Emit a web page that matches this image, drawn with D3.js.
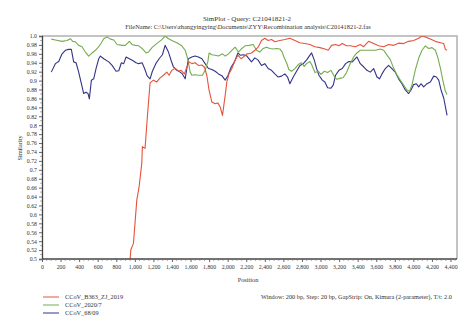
<!DOCTYPE html>
<html>
<head>
<meta charset="utf-8">
<script src="https://cdn.jsdelivr.net/npm/d3@7.9.0/dist/d3.min.js"></script>
<style>
  body { margin: 0; background: #fff; }
  svg { display: block; font-family: "Liberation Serif", "DejaVu Serif", serif; }
</style>
</head>
<body>
<svg width="474" height="336"></svg>
<script>
// series (position in bp, similarity)
const redPos = [950, 956, 985, 1021, 1046, 1075, 1081, 1110, 1135, 1164, 1200, 1236, 1272, 1308, 1344, 1369, 1398, 1434, 1470, 1498, 1534, 1560, 1585, 1614, 1649, 1685, 1722, 1750, 1775, 1800, 1830, 1865, 1894, 1919, 1944, 1973, 1991, 2016, 2045, 2073, 2110, 2145, 2181, 2207, 2221, 2256, 2293, 2328, 2364, 2400, 2436, 2472, 2508, 2562, 2616, 2670, 2724, 2778, 2832, 2886, 2940, 2994, 3047, 3083, 3119, 3162, 3198, 3234, 3280, 3320, 3374, 3428, 3464, 3518, 3572, 3626, 3680, 3733, 3787, 3841, 3895, 3949, 4003, 4057, 4093, 4129, 4183, 4237, 4291, 4327, 4345, 4363];
const redSim = [0.50, 0.52, 0.535, 0.632, 0.662, 0.715, 0.752, 0.748, 0.819, 0.895, 0.901, 0.897, 0.906, 0.912, 0.919, 0.912, 0.923, 0.928, 0.921, 0.923, 0.915, 0.930, 0.942, 0.938, 0.940, 0.934, 0.935, 0.930, 0.912, 0.878, 0.852, 0.848, 0.850, 0.841, 0.822, 0.867, 0.897, 0.916, 0.927, 0.942, 0.957, 0.949, 0.955, 0.960, 0.960, 0.962, 0.968, 0.975, 0.990, 0.995, 0.990, 0.992, 0.987, 0.990, 0.992, 0.995, 0.990, 0.985, 0.983, 0.981, 0.976, 0.974, 0.971, 0.968, 0.979, 0.981, 0.978, 0.983, 0.978, 0.978, 0.976, 0.981, 0.976, 0.988, 0.983, 0.978, 0.976, 0.981, 0.979, 0.984, 0.983, 0.988, 0.990, 0.995, 1.0, 0.998, 0.993, 0.988, 0.985, 0.983, 0.970, 0.968];

const greenPos = [100, 144, 216, 270, 305, 331, 359, 395, 431, 467, 503, 539, 575, 611, 640, 665, 701, 737, 773, 809, 863, 898, 941, 970, 1006, 1042, 1078, 1121, 1146, 1189, 1236, 1290, 1326, 1355, 1398, 1452, 1506, 1542, 1570, 1596, 1614, 1649, 1685, 1728, 1757, 1786, 1800, 1830, 1865, 1901, 1944, 1973, 2009, 2045, 2080, 2116, 2152, 2188, 2231, 2275, 2310, 2346, 2382, 2418, 2454, 2490, 2526, 2562, 2587, 2609, 2634, 2659, 2688, 2724, 2760, 2795, 2824, 2849, 2886, 2904, 2940, 2976, 3005, 3041, 3076, 3112, 3148, 3173, 3209, 3245, 3280, 3316, 3356, 3392, 3428, 3482, 3536, 3590, 3644, 3680, 3716, 3752, 3787, 3823, 3859, 3895, 3931, 3960, 3985, 4021, 4057, 4093, 4129, 4165, 4201, 4237, 4262, 4291, 4320, 4345, 4363];
const greenSim = [0.993, 0.991, 0.988, 0.990, 0.994, 0.988, 0.987, 0.979, 0.976, 0.964, 0.955, 0.962, 0.968, 0.976, 0.985, 0.994, 0.998, 0.993, 0.991, 0.981, 0.979, 0.979, 0.988, 0.981, 0.979, 0.978, 0.972, 0.962, 0.964, 0.975, 0.983, 0.992, 1.0, 0.995, 0.990, 0.985, 0.978, 0.968, 0.949, 0.919, 0.912, 0.913, 0.912, 0.912, 0.923, 0.942, 0.962, 0.958, 0.957, 0.955, 0.960, 0.955, 0.960, 0.968, 0.975, 0.964, 0.972, 0.978, 0.979, 0.981, 0.968, 0.964, 0.972, 0.975, 0.972, 0.971, 0.972, 0.971, 0.964, 0.951, 0.940, 0.925, 0.921, 0.927, 0.936, 0.940, 0.932, 0.938, 0.943, 0.936, 0.918, 0.921, 0.914, 0.921, 0.918, 0.923, 0.910, 0.903, 0.905, 0.907, 0.918, 0.936, 0.953, 0.962, 0.968, 0.968, 0.968, 0.968, 0.971, 0.968, 0.957, 0.947, 0.928, 0.913, 0.901, 0.890, 0.879, 0.876, 0.890, 0.924, 0.950, 0.968, 0.978, 0.972, 0.974, 0.968, 0.953, 0.928, 0.898, 0.876, 0.869];

const bluePos = [100, 144, 180, 216, 252, 288, 316, 341, 367, 395, 424, 449, 474, 496, 510, 532, 557, 582, 611, 629, 665, 719, 755, 798, 827, 855, 880, 906, 941, 977, 1013, 1042, 1078, 1107, 1132, 1146, 1164, 1189, 1226, 1261, 1297, 1326, 1362, 1391, 1415, 1452, 1488, 1512, 1542, 1577, 1614, 1649, 1685, 1722, 1757, 1793, 1830, 1865, 1901, 1937, 1973, 2002, 2037, 2073, 2110, 2134, 2170, 2207, 2256, 2293, 2328, 2364, 2400, 2436, 2472, 2508, 2544, 2580, 2616, 2645, 2670, 2706, 2742, 2778, 2814, 2849, 2886, 2904, 2933, 2958, 2983, 3019, 3047, 3076, 3112, 3137, 3162, 3198, 3234, 3270, 3306, 3342, 3392, 3428, 3464, 3500, 3536, 3572, 3608, 3636, 3662, 3698, 3733, 3769, 3805, 3841, 3877, 3913, 3949, 3975, 4003, 4032, 4057, 4082, 4111, 4147, 4183, 4219, 4248, 4273, 4298, 4327, 4363];
const blueSim = [0.919, 0.938, 0.943, 0.960, 0.968, 0.970, 0.970, 0.942, 0.940, 0.919, 0.893, 0.871, 0.874, 0.871, 0.859, 0.901, 0.904, 0.927, 0.949, 0.955, 0.949, 0.942, 0.934, 0.921, 0.922, 0.940, 0.938, 0.953, 0.949, 0.945, 0.940, 0.938, 0.940, 0.926, 0.911, 0.908, 0.904, 0.921, 0.938, 0.949, 0.958, 0.979, 0.964, 0.945, 0.931, 0.923, 0.919, 0.915, 0.904, 0.949, 0.953, 0.955, 0.953, 0.949, 0.938, 0.927, 0.925, 0.921, 0.915, 0.911, 0.901, 0.911, 0.930, 0.942, 0.962, 0.957, 0.958, 0.955, 0.942, 0.951, 0.946, 0.934, 0.938, 0.927, 0.923, 0.915, 0.908, 0.910, 0.915, 0.908, 0.893, 0.908, 0.921, 0.934, 0.938, 0.946, 0.957, 0.962, 0.946, 0.927, 0.912, 0.901, 0.897, 0.884, 0.883, 0.890, 0.912, 0.923, 0.927, 0.938, 0.943, 0.942, 0.953, 0.938, 0.931, 0.923, 0.919, 0.927, 0.908, 0.904, 0.915, 0.927, 0.934, 0.927, 0.919, 0.904, 0.893, 0.879, 0.871, 0.879, 0.891, 0.893, 0.886, 0.893, 0.886, 0.893, 0.897, 0.910, 0.908, 0.901, 0.879, 0.861, 0.822];

const seriesNames = ["CCoV_B363_ZJ_2019", "CCoV_2020/7", "CCoV_68/09"];
const seriesColors = ["#e5533a", "#74ad4e", "#33338a"];
const xTickValues = d3.range(0, 4401, 200);
const yTickValues = d3.range(0.5, 1.0001, 0.02).map(v => +v.toFixed(2));

const svg = d3.select("svg");
const plotLeft = 42, plotRight = 457, plotTop = 36, plotBottom = 259;

let x = d3.scaleLinear().domain([0, 4470]).range([plotLeft, plotRight]);
let y = d3.scaleLinear().domain([0.5, 1.0]).range([plotBottom, plotTop]);

// titles
svg.append("text").attr("x", 247).attr("y", 21).attr("text-anchor", "middle")
  .attr("font-size", 7).attr("fill", "#333").text("SimPlot - Query: C21041821-2");
svg.append("text").attr("x", 248).attr("y", 29).attr("text-anchor", "middle")
  .attr("font-size", 6.4).attr("fill", "#333")
  .text("FileName: C:\\Users\\zhangyingying\\Documents\\ZYY\\Recombination analysis\\C20141821-2.fas");

// frame: gray on top/right
svg.append("path")
  .attr("d", `M${plotLeft},${plotTop}H${plotRight}V${plotBottom}`)
  .attr("fill", "none").attr("stroke", "#b0b0b0").attr("stroke-width", 1.5);

// clip for the lines
svg.append("clipPath").attr("id", "plotclip")
  .append("rect").attr("x", plotLeft).attr("y", plotTop)
  .attr("width", plotRight - plotLeft).attr("height", plotBottom - plotTop);

let lineGen = d3.line().x(d => x(d[0])).y(d => y(d[1]));
let allSeries = [
  d3.zip(redPos, redSim),
  d3.zip(greenPos, greenSim),
  d3.zip(bluePos, blueSim)
];

// blue first, red on top
[2, 1, 0].forEach(i => {
  svg.append("path")
    .attr("clip-path", "url(#plotclip)")
    .attr("d", lineGen(allSeries[i]))
    .attr("fill", "none")
    .attr("stroke", seriesColors[i])
    .attr("stroke-width", 1.1)
    .attr("stroke-linejoin", "round");
});

// y axis
let yAxis = d3.axisLeft(y).tickValues(yTickValues).tickSize(3)
  .tickFormat(v => v === 1 ? "1.0" : d3.format("")(v));
let gy = svg.append("g").attr("transform", `translate(${plotLeft},0)`).call(yAxis);
gy.select(".domain").attr("stroke", "#444").attr("stroke-width", 1.3);
gy.selectAll(".tick line").attr("stroke", "#666");
gy.selectAll("text").attr("font-size", 5.8).attr("fill", "#333")
  .attr("font-family", "Liberation Serif, serif").attr("x", -5);
// minor y ticks
svg.append("g").selectAll("line").data(d3.range(0.51, 1.0, 0.02)).join("line")
  .attr("x1", plotLeft - 2).attr("x2", plotLeft).attr("y1", d => y(d)).attr("y2", d => y(d))
  .attr("stroke", "#777").attr("stroke-width", 0.6);

// x axis
let xAxis = d3.axisBottom(x).tickValues(xTickValues).tickSize(3)
  .tickFormat(d3.format(","));
let gx = svg.append("g").attr("transform", `translate(0,${plotBottom})`).call(xAxis);
gx.select(".domain").attr("d", `M${plotLeft},0H${plotRight}`).attr("stroke", "#444").attr("stroke-width", 1.3);
gx.selectAll(".tick line").attr("stroke", "#666");
gx.selectAll("text").attr("font-size", 5.8).attr("fill", "#333")
  .attr("font-family", "Liberation Serif, serif").attr("y", 6);
// minor x ticks
svg.append("g").selectAll("line").data(d3.range(50, 4470, 50).filter(v => v % 200 !== 0)).join("line")
  .attr("x1", d => x(d)).attr("x2", d => x(d)).attr("y1", plotBottom).attr("y2", plotBottom + 2)
  .attr("stroke", "#777").attr("stroke-width", 0.6);

// axis titles
svg.append("text").attr("x", 248).attr("y", 282).attr("text-anchor", "middle")
  .attr("font-size", 6.3).attr("fill", "#333").text("Position");
svg.append("text").attr("transform", "translate(22,148) rotate(-90)").attr("text-anchor", "middle")
  .attr("font-size", 6.3).attr("fill", "#333").text("Similarity");

// legend
let legend = svg.append("g");
seriesNames.forEach((name, i) => {
  let ly = 297 + i * 8;
  legend.append("line").attr("x1", 43).attr("x2", 59).attr("y1", ly).attr("y2", ly)
    .attr("stroke", seriesColors[i]).attr("stroke-width", 1);
  legend.append("text").attr("x", 65).attr("y", ly + 2).attr("font-size", 6.3)
    .attr("fill", "#333").text(name);
});

svg.append("text").attr("x", 452).attr("y", 299).attr("text-anchor", "end")
  .attr("font-size", 6.3).attr("fill", "#333")
  .text("Window: 200 bp, Step: 20 bp, GapStrip: On, Kimura (2-parameter), T/t: 2.0");
</script>
</body>
</html>
